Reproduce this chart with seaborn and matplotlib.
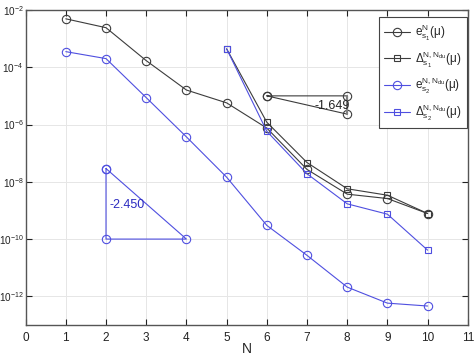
import numpy as np
import pandas as pd
import seaborn as sns
from matplotlib import pyplot as plt
from matplotlib.ticker import FixedLocator, NullLocator

# data
N_all = [1, 2, 3, 4, 5, 6, 7, 8, 9, 10]
N_du = [5, 6, 7, 8, 9, 10]
e_s1 = [4.9e-3, 2.4e-3, 1.7e-4, 1.6e-5, 5.7e-6, 7.5e-7, 2.7e-8, 3.7e-9, 2.6e-9, 7.8e-10]
delta_s1 = [4.4e-4, 1.2e-6, 4.7e-8, 5.7e-9, 3.4e-9, 7.8e-10]
e_s2 = [3.5e-4, 2.0e-4, 8.7e-6, 3.7e-7, 1.45e-8, 3.0e-10, 2.7e-11, 2.1e-12, 5.8e-13, 4.6e-13]
delta_s2 = [4.4e-4, 5.8e-7, 1.9e-8, 1.7e-9, 7.4e-10, 4.1e-11]

tri1_x = [6, 8, 8, 6]
tri1_y = [1e-5, 1e-5, 2.3e-6, 1e-5]
tri2_x = [2, 2, 4, 2]
tri2_y = [2.9e-8, 1e-10, 1e-10, 2.9e-8]

dark = '#3c3c3c'
blue = '#4f4fe0'

sns.set_style("white")
plt.rcParams['font.family'] = ['Liberation Sans', 'DejaVu Sans']
plt.rcParams['mathtext.fontset'] = 'custom'
plt.rcParams['mathtext.rm'] = 'Liberation Sans'
plt.rcParams['mathtext.it'] = 'Liberation Sans'
plt.rcParams['mathtext.bf'] = 'Liberation Sans:bold'

fig = plt.figure(figsize=(4.74, 3.55), dpi=100)
ax = fig.add_axes([0.054, 0.0845, 0.933, 0.8875])

def series(x, y, col, mk, lab, ms):
    sns.lineplot(x=x, y=y, ax=ax, color=col, marker=mk, label=lab,
                 mfc='none', mec=col, markersize=ms, markeredgewidth=0.8, linewidth=0.8)

series(N_all, e_s1, dark, 'o', r'$\mathregular{e^{N}_{s_1}(\mu)}$', 6)
series(N_du, delta_s1, dark, 's', r'$\mathregular{\Delta^{N,N_{du}}_{s_1}(\mu)}$', 5)
series(N_all, e_s2, blue, 'o', r'$\mathregular{e^{N,N_{du}}_{s_2}(\mu)}$', 6)
series(N_du, delta_s2, blue, 's', r'$\mathregular{\Delta^{N,N_{du}}_{s_2}(\mu)}$', 5)

# slope triangles
tk = dict(marker='o', mfc='none', markersize=6, markeredgewidth=0.8, linewidth=0.8)
ax.plot(tri1_x, tri1_y, color=dark, mec=dark, **tk)
ax.plot([8, 8], [1e-5, 2.3e-6], color='#808080', linewidth=1.6)
ax.text(7.62, 4.3e-6, '-1.649', fontsize=9, color='#222222', ha='center', va='center')
ax.plot(tri2_x, tri2_y, color=blue, mec=blue, **tk)
ax.text(2.08, 1.6e-9, '-2.450', fontsize=9, color='#2a2ac0', ha='left', va='center')

ax.set_yscale('log')
ax.set_xlim(0, 11)
ax.set_ylim(1e-13, 1e-2)
ax.set_xticks(range(0, 12))
ax.yaxis.set_major_locator(FixedLocator([1e-2, 1e-4, 1e-6, 1e-8, 1e-10, 1e-12]))
ax.yaxis.set_minor_locator(NullLocator())
ax.set_yticklabels([r'$\mathregular{10^{-2}}$', r'$\mathregular{10^{-4}}$', r'$\mathregular{10^{-6}}$',
                    r'$\mathregular{10^{-8}}$', r'$\mathregular{10^{-10}}$', r'$\mathregular{10^{-12}}$'])
ax.grid(True, color='#e6e6e6', linewidth=0.7)
ax.tick_params(direction='in', length=4, labelsize=8.5, colors='#222222',
               top=True, right=True, bottom=True, left=True, pad=5)
ax.tick_params(axis='y', pad=1.5, labelsize=7.2)
for s in ax.spines.values():
    s.set_color('#555555')
    s.set_linewidth(1.0)
ax.set_xlabel('N', fontsize=10)
ax.xaxis.set_label_coords(0.5, -0.055)
ax.set_ylabel('')

leg = ax.legend(loc='upper right', bbox_to_anchor=(1.0, 0.98), fontsize=8.5, handlelength=2.2,
                handletextpad=0.4, labelspacing=0.55, borderpad=0.45, borderaxespad=0.1,
                fancybox=False, framealpha=1)
leg.get_frame().set_edgecolor('#444444')
leg.get_frame().set_linewidth(0.8)

fig.savefig('out.png', dpi=100)
